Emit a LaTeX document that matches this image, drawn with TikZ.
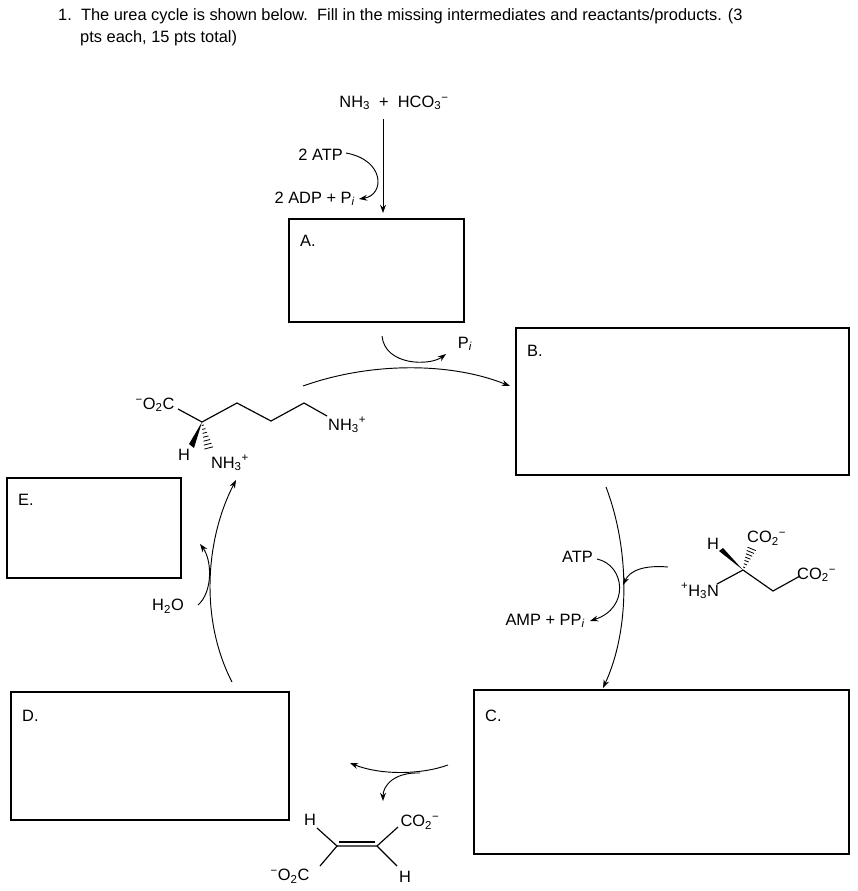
\documentclass[tikz,border=0pt]{standalone}
\usepackage{fontspec}
\setmainfont{Liberation Sans}
\usetikzlibrary{arrows.meta,calc}
\newcommand{\hashbond}[2]{%
  \foreach \t in {0.12,0.26,0.40,0.54,0.68,0.82,0.96}{%
    \path (#1) -- (#2) coordinate[pos=\t] (hm);
    \draw[line width=0.7pt] ($(hm)!{0.5pt+\t*3.5pt}!90:(#2)$) -- ($(hm)!{0.5pt+\t*3.5pt}!-90:(#2)$);
  }}
\newcommand{\sbt}[1]{\textsubscript{#1}}
\newcommand{\spt}[1]{\textsuperscript{#1}}
\begin{document}
\begin{tikzpicture}[x=0.03cm,y=-0.03cm,
  lab/.style={font=\fontsize{14}{16}\selectfont,inner sep=0pt},
  boxx/.style={draw,line width=1.6pt},
  arr/.style={line width=0.8pt,-{Stealth[length=7pt,width=5pt]}},
  bond/.style={line width=1pt}]
\useasboundingbox (0,0) rectangle (857,891);
% title
\node[lab,anchor=west] (t1) at (58,16) {1.\ \ The urea cycle is shown below.\ \ Fill in the missing intermediates and reactants/products. (3};
\node[lab,anchor=west] (t2) at (80,38) {pts each, 15 pts total)};
% boxes
\draw[boxx] (289,219) rectangle (464,322); \node[lab,anchor=west] (la) at (300,241) {A.};
\draw[boxx] (516,328) rectangle (849,475); \node[lab,anchor=west] (lb) at (527,351) {B.};
\draw[boxx] (7,478) rectangle (181,578); \node[lab,anchor=west] (le) at (18,500) {E.};
\draw[boxx] (11,692) rectangle (289,820); \node[lab,anchor=west] (ld) at (22,716) {D.};
\draw[boxx] (474,690) rectangle (849,854); \node[lab,anchor=west] (lc) at (485,716) {C.};
% top
\node[lab] (nh3) at (394,103) {NH\sbt{3}\ \ +\ \ HCO\sbt{3}\spt{−}};
\coordinate (vt) at (383,119); \coordinate (vb) at (383,213);
\draw[arr] (vt) -- (vb);
\node[lab,anchor=east] (atp2) at (343,155) {2 ATP};
\node[lab,anchor=east] (adp2) at (355,199) {2 ADP + P\sbt{\itshape i}};
\draw[arr] (346,153) .. controls (385,160) and (385,195) .. (359,199);
% A -> B
\draw[arr] (303,386) .. controls (370,362) and (450,362) .. (510,386);
\draw[arr] (382,336) .. controls (385,366) and (430,366) .. (446,354);
\node[lab] (pi) at (465,344) {P\sbt{\itshape i}};
% B -> C
\draw[arr] (606,487) .. controls (630,550) and (630,630) .. (603,688);
\node[lab,anchor=east] (atp) at (593,557) {ATP};
\node[lab,anchor=east] (amp) at (585,621) {AMP + PP\sbt{\itshape i}};
\draw[arr] (597,559) .. controls (625,565) and (630,608) .. (590,621);
\draw[arr] (668,567) .. controls (645,565) and (630,570) .. (623,585);
% aspartate
\coordinate (ca) at (743,570);
\coordinate (cah) at (752,548);
\node[lab] (ah) at (713,544) {H};
\node[lab,anchor=west] (aco) at (747,538) {CO\sbt{2}\spt{−}};
\node[lab] (an) at (700,591) {\spt{+}H\sbt{3}N};
\node[lab,anchor=west] (aco2) at (797,575) {CO\sbt{2}\spt{−}};
\fill (ca) -- (719,551) -- (723,548) -- cycle;
\hashbond{ca}{cah}
\draw[bond] (ca) -- (717,584);
\draw[bond] (ca) -- (773,591) -- (800,576);
% C -> D
\draw[arr] (448,765) .. controls (420,775) and (380,775) .. (350,763);
\draw[arr] (420,773) .. controls (395,772) and (383,785) .. (383,801);
% fumarate
\node[lab] (fh1) at (310,820) {H};
\node[lab] (fco) at (420,822) {CO\sbt{2}\spt{−}};
\node[lab] (fco2) at (290,876) {\spt{−}O\sbt{2}C};
\node[lab] (fh2) at (405,877) {H};
\draw[bond] (317,828) -- (337,846) -- (320,866);
\draw[bond] (337,846) -- (377,846) -- (398,827);
\draw[bond] (339,842) -- (375,842);
\draw[bond] (377,846) -- (397,866);
% D -> E
\draw[arr] (232,682) .. controls (200,620) and (205,540) .. (236,480);
\node[lab] (h2o) at (168,606) {H\sbt{2}O};
\draw[arr] (198,605) .. controls (213,592) and (212,560) .. (200,544);
% ornithine
\node[lab] (oco) at (155,405) {\spt{−}O\sbt{2}C};
\coordinate (oa) at (202,422);
\coordinate (oan) at (209,449);
\draw[bond] (178,409) -- (oa) -- (237,403) -- (271,421) -- (304,403) -- (327,416);
\node[lab,anchor=west] (onh) at (328,425) {NH\sbt{3}\spt{+}};
\node[lab] (oh) at (184,455) {H};
\node[lab] (onh2) at (230,463) {NH\sbt{3}\spt{+}};
\fill (oa) -- (189,444) -- (194,448) -- cycle;
\hashbond{oa}{oan}
\end{tikzpicture}
\end{document}
